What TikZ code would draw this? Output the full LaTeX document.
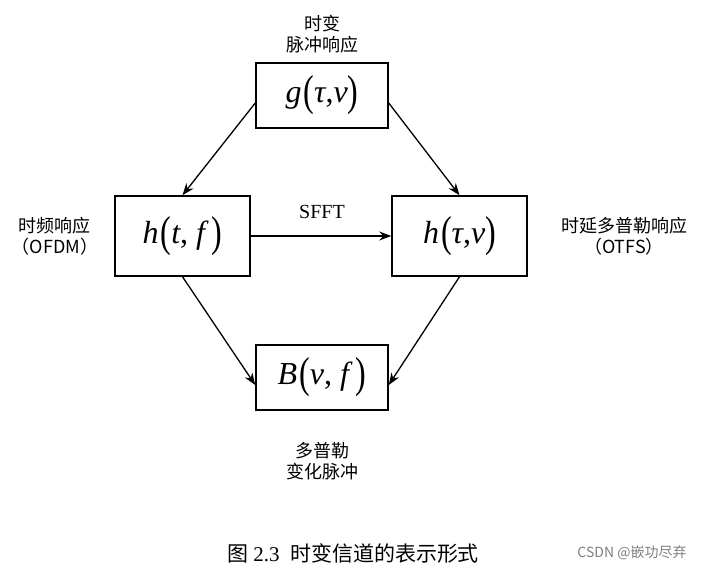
\documentclass[tikz,border=0pt]{standalone}
\usepackage{fontspec}
\setmainfont{Liberation Serif}
\newfontfamily\cjk{Noto Sans CJK SC}
\usetikzlibrary{arrows.meta}
\newcommand{\lp}{\raisebox{-3pt}{\scalebox{1}[1.35]{(}}}
\newcommand{\rp}{\raisebox{-3pt}{\scalebox{1}[1.35]{)}}}
\begin{document}
\begin{tikzpicture}[x=1pt,y=-1pt,
  bx/.style={draw,line width=1.5pt,inner sep=0pt},
  lab/.style={align=center,font=\cjk\fontsize{18}{21}\selectfont},
  ar/.style={-{Stealth[length=12pt,width=9pt]},line width=1.3pt},
  mth/.style={font=\fontsize{32}{36}\selectfont}]
\useasboundingbox[fill=white] (0,0) rectangle (716,570);
\node[bx,minimum width=132pt,minimum height=65pt,mth] (g) at (322,95.5) {\textit{g}\hspace{2pt}\lp\textit{τ},\textit{v}\rp};
\node[bx,minimum width=135pt,minimum height=80pt,mth] (l) at (182.5,236) {\textit{h}\hspace{2pt}\lp\textit{t}, \textit{f}\hspace{3pt}\rp};
\node[bx,minimum width=135pt,minimum height=80pt,mth] (r) at (459.5,236) {\textit{h}\hspace{2pt}\lp\textit{τ},\textit{v}\rp};
\node[bx,minimum width=132pt,minimum height=65pt,mth] (b) at (322,377.5) {\textit{B}\hspace{2pt}\lp\textit{v}, \textit{f}\hspace{3pt}\rp};
\node[lab] (tl) at (322,34) {时变\\脉冲响应};
\node[lab] (ll) at (55,236) {时频响应\\（OFDM）};
\node[lab] (rl) at (624,236) {时延多普勒响应\\（OTFS）};
\node[lab] (bl) at (322,461) {多普勒\\变化脉冲};
\node[font=\fontsize{20}{23}\selectfont] (s) at (322,212) {SFFT};
\draw[ar] (g.west|-0,103) -- (l.north);
\draw[ar] (g.east|-0,103) -- (r.north);
\draw[ar] (l.south) -- (b.west|-0,385);
\draw[ar] (r.south) -- (b.east|-0,385);
\draw[ar] (l.east) -- (r.west);
\node[font=\fontsize{21}{24}\selectfont] (cap) at (353,553) {{\cjk 图} 2.3\ \ {\cjk 时变信道的表示形式}};
\node[font=\cjk\fontsize{14}{16}\selectfont,text=gray] (w) at (632,553) {CSDN @嵌功尽弃};
\end{tikzpicture}
\end{document}
